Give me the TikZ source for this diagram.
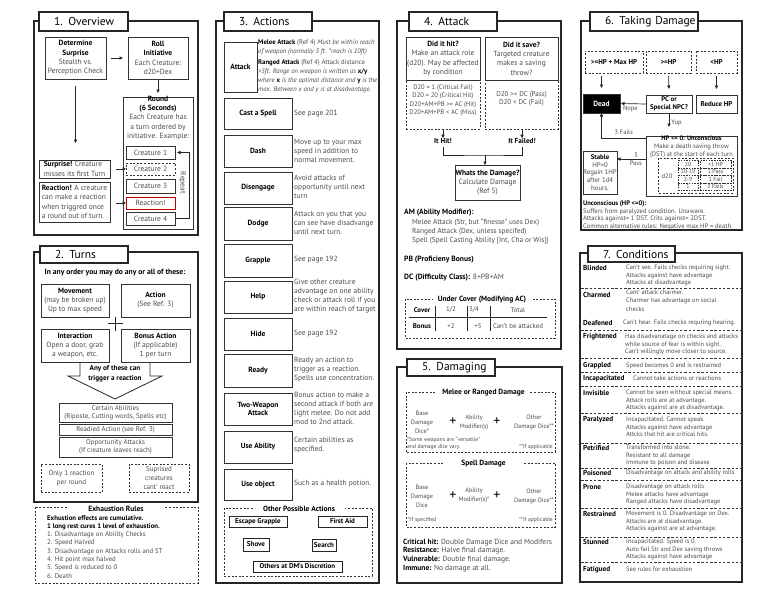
\documentclass[tikz,border=0pt]{standalone}
\usepackage{fontspec}
\setmainfont{PT Sans}
\usetikzlibrary{arrows.meta}
\definecolor{tg}{gray}{0.3}
\newcommand\bk[1]{\textbf{\color{black}#1}}
\newcommand\fsz[2]{\fontsize{#1}{#2}\selectfont}
\newcommand\mkbox[7]{\node[#2, minimum width={#5pt-#3pt}, minimum height={#6pt-#4pt}] (#1) at ({(#3+#5)/2},{(#4+#6)/2}) {#7};}
\newcommand\mkttl[7]{\node[ttl, minimum width={#4pt-#2pt}, minimum height={#5pt-#3pt}, text width=#6pt] (#1) at ({(#2+#4)/2},{(#3+#5)/2}) {\mbox{#7}};}
\tikzset{
  frame/.style={draw=black!85, line width=1.5pt},
  ttl/.style={draw=black!85, line width=1.3pt, fill=white, inner sep=0pt, font=\fsz{11.5}{12}, align=left},
  bx/.style={draw=black!80, line width=0.7pt, inner sep=0pt, outer sep=0pt, align=center, text=tg, font=\fsz{7.5}{9.3}},
  ov/.style={bx},
  dbx/.style={bx, dash pattern=on 2pt off 1.6pt},
  dsh/.style={draw=black!80, line width=0.7pt, dash pattern=on 2pt off 1.6pt},
  arr/.style={draw=black!85, line width=0.7pt, -{Triangle[length=3.5pt,width=3.2pt]}},
  tx/.style={inner sep=0pt, text=tg, font=\fsz{7}{8.5}, align=left},
  lab/.style={inner sep=0pt, text=tg, font=\fsz{6.5}{7}},
  hd/.style={inner sep=0pt, font=\bfseries\fsz{7.2}{8}, align=center},
  gap/.style={fill=white, inner ysep=1pt, font=\bfseries\fsz{7.5}{8}},
  act/.style={bx, font=\bfseries\fsz{7.5}{8.7}, text=black},
  desc/.style={tx, anchor=west, font=\fsz{7.5}{9}},
  sbx/.style={draw=black!85, line width=0.9pt, inner sep=0pt, font=\bfseries\fsz{7}{8}},
  cn/.style={inner sep=0pt, anchor=west, font=\bfseries\fsz{7.2}{8}},
  cd/.style={tx, anchor=north west, font=\fsz{6.4}{7.8}},
  sep/.style={draw=black!80, line width=0.7pt, dash pattern=on 2.5pt off 1.8pt},
  gcell/.style={bx, dash pattern=on 1.5pt off 1.2pt, line width=0.5pt, font=\fsz{5.8}{6}},
  pl/.style={inner sep=0pt, font=\fsz{14}{14}},
  dmg/.style={inner sep=0pt, text=tg, align=center, font=\fsz{6.3}{9}},
  nt/.style={inner sep=0pt, text=tg, align=left, font=\fsz{5.6}{7.2}},
}
\begin{document}
\begin{tikzpicture}[x=1pt,y=-1pt]
\fill[white] (0,0) rectangle (768,594);
\useasboundingbox (0,0) rectangle (768,594);

% ================= 1. Overview
\draw[frame] (34,21) rectangle (198,235);
\mkttl{t1}{39}{12}{128}{31}{59}{1. Overview}
\mkbox{surp}{ov}{45}{37}{106}{79}{\bk{Determine}\\\bk{Surprise}\\Stealth vs.\\Perception Check}
\mkbox{init}{ov}{128}{37}{188}{79}{\bk{Roll}\\\bk{Initiative}\\Each Creature:\\d20+Dex}
\draw[arr, shorten <=5pt, shorten >=5pt] (surp) -- (init);
\mkbox{round}{ov}{123}{97}{193}{229}{}
\node[ov, draw=none, anchor=north] (roundtx) at (158,96) {\bk{Round}\\\bk{(6 Seconds)}\\Each Creature has\\a turn ordered by\\initiative. Example:};
\draw[arr, shorten <=1pt, shorten >=4pt] (init) -- (round);
\mkbox{c1}{ov}{126}{146}{175}{159}{Creature 1}
\mkbox{c2}{ov, dash pattern=on 2pt off 1.6pt}{126}{163}{175}{175}{Creature 2}
\mkbox{c3}{ov}{126}{179}{175}{193}{Creature 3}
\mkbox{rea}{ov, draw=red!75!black}{126}{197}{175}{209}{Reaction!}
\mkbox{c4}{ov}{126}{212}{175}{225}{Creature 4}
\draw[arr, shorten >=2pt] (c4.east) -- ++(14,0) |- (c1.east);
\node[ov, draw=none, rotate=-90] (rep) at (182.5,183) {Repeat};
\coordinate (sa) at (75.5,143);
\draw[arr, shorten <=7pt] (surp) -- (sa);
\mkbox{sbox}{ov, align=left}{39}{160}{110}{178}{\bk{Surprise!} Creature\\misses its first Turn}
\mkbox{rbox}{ov, align=left}{39}{182}{110}{222}{\bk{Reaction!} A creature\\can make a reaction\\when triggred once\\a round out of turn.}
\draw[arr, shorten <=6pt] (sbox.east) -- (c2.west);
\draw[arr, shorten <=6pt] (rbox.east |- rea.west) -- (rea.west);

% ================= 2. Turns
\draw[frame] (34,252) rectangle (198,502);
\mkttl{t2}{40}{246}{128}{263}{58}{2. Turns}
\node[hd, font=\bfseries\fsz{7.6}{8}] (anyord) at (115,273) {In any order you may do any or all of these:};
\mkbox{mov}{ov}{41}{284}{109}{317}{\bk{Movement}\\(may be broken up)\\Up to max speed}
\mkbox{actn}{ov}{121}{284}{190}{317}{\bk{Action}\\(See Ref. 3)}
\mkbox{inter}{ov}{41}{329}{109}{362}{\bk{Interaction}\\Open a door, grab\\a weapon, etc.}
\mkbox{bonus}{ov}{121}{329}{190}{362}{\bk{Bonus Action}\\(If applicable)\\1 per turn}
\draw[line width=0.8pt, black!85] (108,323.5) -- (123,323.5) (115.5,316.5) -- (115.5,331);
\draw[line width=0.8pt, black!85] (80,362) -- (80,376) -- (68,376) -- (115,399) -- (162,376) -- (150,376) -- (150,362);
\node[hd, font=\bfseries\fsz{7.2}{10.5}] (trig) at (115,373.5) {Any of these can\\trigger a reaction};
\mkbox{cab}{ov, font=\fsz{6.9}{8.3}}{59}{403}{172}{422}{Certain Abilities\\(Riposte, Cutting words, Spells etc)}
\mkbox{rdy}{ov, font=\fsz{6.9}{8.3}}{59}{424}{172}{435}{Readied Action (see Ref. 3)}
\mkbox{opp}{ov, font=\fsz{6.9}{8.3}}{59}{437}{172}{457}{Opportunity Attacks\\(If creature leaves reach)}
\mkbox{only}{dbx, font=\fsz{7}{9}}{41}{464}{102}{492}{Only 1 reaction\\per round}
\mkbox{supr}{dbx, font=\fsz{7}{9}}{129}{464}{189}{492}{Suprised\\creatures\\cant' react}

% ================= Exhaustion
\draw[dsh] (35,507) rectangle (198,583);
\node[gap, inner xsep=20pt] (exht) at (116,508.5) {Exhaustion Rules};
\node[tx, anchor=north west, font=\fsz{6.8}{8.3}] (exhl) at (47,515) {\bk{Exhustion effects are cumulative.}\\\bk{1 long rest cures 1 level of exhaustion.}\\1. Disadvantage on Ability Checks\\2. Speed Halved\\3. Disadvantage on Attacks rolls and ST\\4. Hit point max halved\\5. Speed is reduced to 0\\6. Death};

% ================= 3. Actions
\draw[frame] (216,21) rectangle (379,583);
\mkttl{t3}{224}{12}{312}{31}{58}{3. Actions}
\mkbox{attack}{act}{224}{42}{257}{92}{Attack}
\node[tx, anchor=north west, font=\fsz{6.7}{8.3}] (melee) at (258,40) {\bk{Melee Attack} (Ref 4) \textit{Must be within reach}\\\textit{of weapon (normally 5 ft. *reach is 10ft)}};
\node[tx, anchor=north west, font=\fsz{6.7}{8.7}] (ranged) at (258,60) {\bk{Ranged Attack} (Ref 4) Attack distance\\\textit{>5ft. Range on weapon is written as} \bk{x/y}\\\textit{where} \bk{x} \textit{is the optimal distance and} \bk{y} \textit{is the}\\\textit{max. Between x and y is at disadvantage.}};
\mkbox{cast}{act}{224}{98}{292}{129}{Cast a Spell}
\node[desc] (castd) at (294,113.5) {See page 201};
\mkbox{dash}{act}{224}{135}{292}{167}{Dash}
\node[desc] (dashd) at (294,151) {Move up to your max\\speed in addition to\\normal movement.};
\mkbox{diseng}{act}{224}{172}{292}{204}{Disengage}
\node[desc] (disengd) at (294,187) {Avoid attacks of\\opportunity until next\\turn};
\mkbox{dodge}{act}{224}{207}{292}{240}{Dodge}
\node[desc] (dodged) at (294,223) {Attack on you that you\\can see have disadvange\\until next turn.};
\mkbox{grap}{act}{224}{244}{292}{277}{Grapple}
\node[desc] (grapd) at (294,259.5) {See page 192};
\mkbox{help}{act}{224}{281}{292}{313}{Help}
\node[desc] (helpd) at (294,296) {Give other creature\\advantage on one ability\\check or attack roll if you\\are within reach of target};
\mkbox{hide}{act}{224}{318}{292}{350}{Hide}
\node[desc] (hided) at (294,333.5) {See page 192};
\mkbox{ready}{act}{224}{354}{292}{387}{Ready}
\node[desc] (readyd) at (294,370) {Ready an action to\\trigger as a reaction.\\Spells use concentration.};
\mkbox{twow}{act}{224}{393}{292}{425}{Two-Weapon\\Attack}
\node[desc] (twowd) at (294,408) {Bonus action to make a\\second attack if both are\\light melee. Do not add\\mod to 2nd attack.};
\mkbox{useab}{act}{224}{431}{292}{463}{Use Ability}
\node[desc] (useabd) at (294,445.5) {Certain abilities as\\specified.};
\mkbox{useob}{act}{224}{469}{292}{500}{Use object}
\node[desc] (useobd) at (294,484) {Such as a health potion.};
\draw[dsh] (224,508) rectangle (372,576);
\node[gap, inner xsep=10pt] (otht) at (299,508.5) {Other Possible Actions};
\mkbox{esc}{sbx}{229}{516}{287}{527}{Escape Grapple}
\mkbox{faid}{sbx}{318}{516}{367}{527}{First Aid}
\mkbox{shove}{sbx}{243}{538}{269}{551}{Shove}
\mkbox{search}{sbx}{312}{539}{336}{551}{Search}
\mkbox{others}{sbx}{253}{561}{342}{572}{Others at DM's Discretion}

% ================= 4. Attack
\draw[frame] (397,21) rectangle (561,349);
\mkttl{t4}{409}{12}{497}{31}{58}{4. Attack}
\mkbox{hit}{ov}{406}{37}{480}{80}{\bk{Did it hit?}\\Make an attack role\\(d20). May be affected\\by condition}
\mkbox{hitd}{dbx}{406}{80}{480}{129}{}
\node[tx, anchor=north, align=center, font=\fsz{6.6}{8.3}] (hitdt) at (443,84.5) {D20 = 1 (Critical Fail)\\D20 = 20 (Critical Hit)\\D20+AM+PB >= AC (Hit)\\D20+AM+PB < AC (Miss)};
\mkbox{save}{ov}{485}{37}{558}{80}{\bk{Did it save?}\\Targeted creature\\makes a saving\\throw?}
\mkbox{saved}{dbx}{485}{80}{558}{129}{}
\node[tx, anchor=north, align=center, font=\fsz{7}{8.8}] (savedt) at (521.5,91) {D20 >= DC (Pass)\\D20 < DC (Fail)};
\node[hd] (ithit) at (443,141) {It Hit!};
\node[hd] (itfail) at (522,141) {It Failed!};
\draw[arr] (hitd.south) -- (ithit.north);
\draw[arr] (saved.south -| itfail.north) -- (itfail.north);
\mkbox{dmg}{ov}{455}{165}{520}{200}{\bk{Whats the Damage?}\\Calculate Damage\\(Ref 5)}
\coordinate (bj) at (485,155);
\draw[line width=0.7pt, black!85] ([yshift=-3pt]ithit.south) |- (bj) -| ([yshift=-3pt]itfail.south);
\draw[arr] (bj) -- (bj |- dmg.north);
\node[tx, anchor=north west, font=\bfseries\fsz{7.6}{9}, text=black] (am) at (404,209) {AM (Ability Modifier):};
\node[tx, anchor=north west, font=\fsz{7.3}{9}] (amx) at (412,218.5) {Melee Attack (Str, but ``finesse'' uses Dex)\\Ranged Attack (Dex, unless specifed)\\Spell (Spell Casting Ability [Int, Cha or Wis])};
\node[tx, anchor=north west, font=\fsz{7.6}{9}] (pb) at (404,256) {\bk{PB (Proficieny Bonus)}};
\node[tx, anchor=north west, font=\fsz{7.6}{9}] (dc) at (404,274) {\bk{DC (Difficulty Class):} 8+PB+AM};
\draw[dsh] (405,299) rectangle (555,338);
\node[gap, inner xsep=5pt] (covt) at (482,299.5) {Under Cover (Modifying AC)};
\node[hd, font=\bfseries\fsz{6.9}{8}] (cov) at (422,310) {Cover};
\node[lab, font=\fsz{6.8}{7}] (h12) at (451,310) {1/2};
\node[lab, font=\fsz{6.8}{7}] (h34) at (474,310) {3/4};
\node[lab, font=\fsz{6.8}{7}] (htot) at (518,310) {Total};
\node[hd, font=\bfseries\fsz{6.9}{8}] (bon) at (422,326) {Bonus};
\node[lab, font=\fsz{6.8}{7}] (b2) at (451,326) {+2};
\node[lab, font=\fsz{6.8}{7}] (b5) at (478,326) {+5};
\node[lab, font=\fsz{6.8}{7}] (bca) at (518,326) {Can't be attacked};
\draw[line width=0.7pt, black!85] (409,317.5) -- (547,317.5) (435,306) -- (435,331) (467,306) -- (467,331) (490,306) -- (490,331);

% ================= 5. Damaging
\draw[frame] (397,367) rectangle (562,583);
\mkttl{t5}{407}{359}{495}{376}{58}{5. Damaging}
\draw[dsh] (406,392) rectangle (555,452);
\node[gap, inner xsep=5pt] (melt) at (483.5,392.5) {Melee or Ranged Damage};
\node[dmg] (bd1) at (422,422) {Base\\Damage\\Dice*};
\node[pl] (p1) at (453,422) {+};
\node[dmg] (am1) at (474,422.5) {Ability\\Modifier(s)};
\node[pl] (p2) at (497,422) {+};
\node[dmg] (od1) at (534,422.5) {Other\\Damage Dice**};
\node[nt, anchor=west] (n1) at (407,443.5) {*Some weapons are ``versatile''\\and damage dice vary.};
\node[nt, anchor=east] (n2) at (553,447) {**If applicable};
\draw[dsh] (406,463) rectangle (555,527);
\node[gap, inner xsep=18pt] (splt) at (483.5,463.5) {Spell Damage};
\node[dmg] (bd2) at (422,496) {Base\\Damage\\Dice};
\node[pl] (p3) at (453,496) {+};
\node[dmg] (am2) at (474,495.5) {Ability\\Modifier(s)*};
\node[pl] (p4) at (497,496) {+};
\node[dmg] (od2) at (534,496.5) {Other\\Damage Dice**};
\node[nt, anchor=west] (n3) at (408,520) {*If specified};
\node[nt, anchor=east] (n4) at (553,520) {**If applicable};
\node[tx, anchor=north west, font=\fsz{7.5}{8.7}] (crit) at (403,538.5) {\bk{Critical hit:} Double Damage Dice and Modifers\\\bk{Resistance:} Halve final damage.\\\bk{Vulnerable:} Double final damage.\\\bk{Immune:} No damage at all.};

% ================= 6. Taking Damage
\draw[frame] (581,21) rectangle (742,230);
\mkttl{t6}{590}{12}{698}{31}{78}{6. Taking Damage}
\mkbox{d1}{dbx, font=\bfseries\fsz{7}{8}, text=black}{585}{51}{643}{73}{>=HP + Max HP}
\mkbox{d2}{dbx, font=\bfseries\fsz{7}{8}, text=black}{646}{51}{691}{73}{>=HP}
\mkbox{d3}{dbx, font=\bfseries\fsz{7}{8}, text=black}{696}{51}{737}{73}{<HP}
\mkbox{dead}{bx, fill=black, text=white, font=\bfseries\fsz{7.5}{8}}{583}{94}{620}{113}{Dead}
\mkbox{pc}{bx, font=\bfseries\fsz{6.8}{7.6}, text=black}{646}{95}{692}{113}{PC or\\Special NPC?}
\mkbox{reduce}{bx, font=\bfseries\fsz{7}{7.6}, text=black}{696}{95}{737}{113}{Reduce HP}
\draw[arr, shorten <=3pt, shorten >=6pt] (d1.south -| dead.north) -- (dead.north);
\draw[arr, shorten <=3pt, shorten >=6pt] (d2.south) -- (pc.north);
\draw[arr, shorten <=3pt, shorten >=6pt] (d3.south -| reduce.north) -- (reduce.north);
\draw[arr, shorten >=1pt] (pc.west) -- node[lab, pos=0.6, below=1.5pt] (nope) {Nope} (dead.east);
\mkbox{unc}{bx}{646}{136}{737}{196}{}
\node[tx, anchor=north, align=center, font=\fsz{6.5}{8}] (unct) at (691.5,136) {\bk{HP <= 0: Unconscious}\\Make a death saving throw\\(DST) at the start of each turn};
\draw[arr, shorten >=9pt] (pc.south) -- node[lab, pos=0.45, right=2pt] (yup) {Yup} (pc.south |- unc.north);
\draw[dsh] (658,158) rectangle (733,193);
\node[lab] (d20) at (667,176) {d20};
\mkbox{g11}{gcell}{678}{160.5}{698}{168}{20}
\mkbox{g21}{gcell}{678}{168}{698}{175.5}{10-19}
\mkbox{g31}{gcell}{678}{175.5}{698}{183}{2-9}
\mkbox{g41}{gcell}{678}{183}{698}{190.5}{1}
\mkbox{g12}{gcell}{700}{160.5}{731}{168}{+1 HP}
\mkbox{g22}{gcell}{700}{168}{731}{175.5}{1 Pass}
\mkbox{g32}{gcell}{700}{175.5}{731}{183}{1 Fail}
\mkbox{g42}{gcell}{700}{183}{731}{190.5}{2 Fails}
\mkbox{stable}{bx, font=\fsz{6.8}{7.6}}{583}{151}{617}{194}{\bk{Stable}\\HP=0\\Regain 1HP\\after 1d4\\hours.}
\draw[arr] ([yshift=-2pt]unc.north west) -| node[lab, pos=0.25, above=3pt] (fails) {3 Fails} (dead.south);
\draw[arr] (unc.west |- 0,159) -- node[lab, pos=0.35, above=1.5pt] (p3n) {3} node[lab, pos=0.35, below=1.5pt] (pass) {Pass} (stable.east |- 0,159);
\node[tx, anchor=north west, font=\fsz{6.6}{7.7}] (uncx) at (583,200.5) {\bk{Unconscious (HP <=0):}\\Suffers from paralyzed condition. Unaware.\\Attacks against= 1 DST. Crits against= 2DST.\\Common alternative rules: Negative max HP = death.};

% ================= 7. Conditions
\draw[frame] (580,253) rectangle (742,582);
\mkttl{t7}{588}{246}{675}{262}{57}{7. Conditions}
\node[cn] (blind) at (583,268) {Blinded};
\node[cd] (blindd) at (626,264.5) {Can't see. Fails checks requiring sight.\\Attacks against have advantage\\Attacks at disadvantage};
\draw[sep] (581,288) -- (741,288);
\node[cn] (charm) at (583,295) {Charmed};
\node[cd, font=\fsz{6.4}{8.7}] (charmd) at (626,289.5) {Cant' attack charmer.\\Charmer has advantage on social\\checks};
\node[cn] (deaf) at (583,323) {Deafened};
\node[cd] (deafd) at (623,319.5) {Can't hear. Fails checks requring hearing.};
\draw[sep] (581,330) -- (741,330);
\node[cn] (fright) at (583,337) {Frightened};
\node[cd] (frightd) at (625,333.5) {Has disadvanatage on checks and attacks\\while source of fear is within sight.\\Can't willingly move closer to source.};
\draw[sep] (581,358) -- (741,358);
\node[cn] (grapc) at (583,366) {Grappled};
\node[cd] (grapcd) at (626,362.5) {Speed becomes 0 and is restrained};
\draw[sep] (581,372) -- (741,372);
\node[cn] (incap) at (583,379) {Incapacitated};
\node[cd] (incapd) at (633,375.5) {Cannot take actions or reactions};
\draw[sep] (581,386) -- (741,386);
\node[cn] (invis) at (583,393) {Invisible};
\node[cd] (invisd) at (626,389.5) {Cannot be seen without special means.\\Attack rolls are at advantage.\\Attacks against are at disadvantage.};
\draw[sep] (581,413) -- (741,413);
\node[cn] (para) at (583,420) {Paralyzed};
\node[cd] (parad) at (626,416.5) {Incapacitated. Cannot speak.\\Attacks against have advantage\\Attcks that hit are critical hits.};
\draw[sep] (581,443) -- (741,443);
\node[cn] (petr) at (583,448) {Petrified};
\node[cd] (petrd) at (626,444.5) {Transformed into stone.\\Resistant to all damage\\Immune to poison and disease};
\draw[sep] (581,468) -- (741,468);
\node[cn] (pois) at (583,473) {Poisoned};
\node[cd] (poisd) at (626,469.5) {Disadvantage on attack and ability rolls};
\draw[sep] (581,480) -- (741,480);
\node[cn] (prone) at (583,487) {Prone};
\node[cd] (proned) at (626,483.5) {Disadvantage on attack rolls\\Melee attacks have advantage\\Ranged attacks have disadvantage};
\draw[sep] (581,508) -- (741,508);
\node[cn] (restr) at (583,514) {Restrained};
\node[cd] (restrd) at (626,510.5) {Movement is 0. Disadvantage on Dex.\\Attacks are at disadvantage.\\Attacks against are at advantage.};
\draw[sep] (581,537) -- (741,537);
\node[cn] (stun) at (583,542) {Stunned};
\node[cd] (stund) at (626,538.5) {Incapacitated. Speed is 0.\\Auto fail Str and Dex saving throws\\Attacks against have advantage};
\draw[sep] (581,562) -- (741,562);
\node[cn] (fatig) at (583,570) {Fatigued};
\node[cd] (fatigd) at (626,566.5) {See rules for exhaustion};
\end{tikzpicture}
\end{document}
